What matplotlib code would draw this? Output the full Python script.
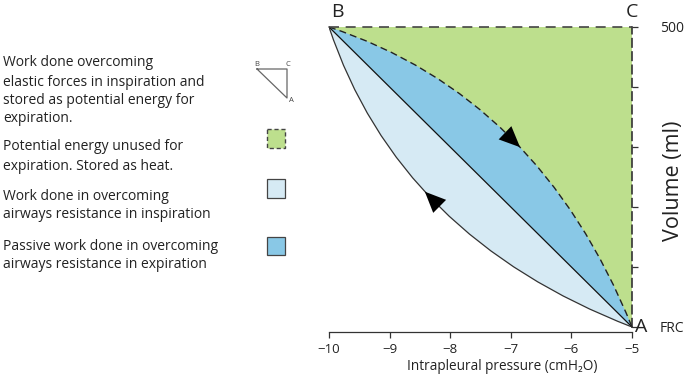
import matplotlib
matplotlib.use("Agg")
import matplotlib.pyplot as plt
from matplotlib.patches import Rectangle, PathPatch
from matplotlib.path import Path
from matplotlib.bezier import BezierSegment
import numpy as np

plt.rcParams['font.family'] = ['Open Sans', 'DejaVu Sans']

# ---- data ----
# quadratic curve control points (start B, control, end A) in (pressure, volume)
insp_p = [-10, -8.85, -5]
insp_v = [500, 150, 0]
exp_p = [-10, -6.54, -5]
exp_v = [500, 385, 0]
tri_p = [-10, -5, -5]      # B, C, A
tri_v = [500, 500, 0]
tri_names = ['B', 'C', 'A']
x_ticks = [-10, -9, -8, -7, -6, -5]
x_ticklabels = ['\u221210', '\u22129', '\u22128', '\u22127', '\u22126', '\u22125']
y_ticks = [0, 100, 200, 300, 400, 500]
y_ticklabels = ['FRC', '', '', '', '', '500']
legend_lines = [
    ["Work done overcoming", "elastic forces in inspiration and",
     "stored as potential energy for", "expiration."],
    ["Potential energy unused for", "expiration. Stored as heat."],
    ["Work done in overcoming", "airways resistance in inspiration"],
    ["Passive work done in overcoming", "airways resistance in expiration"],
]

GREEN = '#bddf8d'
BLUE = '#89c8e6'
LIGHT = '#d6eaf4'

W, H = 685, 376
fig = plt.figure(figsize=(W / 100, H / 100), dpi=100)
ax = fig.add_axes([329 / W, 1 - 327 / H, (632 - 329) / W, 300 / H])
ax.set_xlim(-10, -5)
ax.set_ylim(0, 500)

def curve_path(pp, vv, close=False):
    verts = list(zip(pp, vv))
    codes = [Path.MOVETO, Path.CURVE3, Path.CURVE3]
    if close:
        verts = verts + [verts[0]]
        codes = codes + [Path.CLOSEPOLY]
    return Path(verts, codes)

# green triangle
ax.fill(tri_p, tri_v, color=GREEN, lw=0, zorder=1)
# blue & light blue regions (curve + chord)
ax.add_patch(PathPatch(curve_path(exp_p, exp_v, True), fc=BLUE, lw=0, zorder=2))
ax.add_patch(PathPatch(curve_path(insp_p, insp_v, True), fc=LIGHT, lw=0, zorder=2))

# chord B-A
ax.plot([tri_p[0], tri_p[2]], [tri_v[0], tri_v[2]], color='#111111', lw=0.9, zorder=4, clip_on=False)
# inspiration curve
ax.add_patch(PathPatch(curve_path(insp_p, insp_v), fill=False, ec='#333333', lw=0.9, zorder=4))
# expiration curve (dashed)
ax.add_patch(PathPatch(curve_path(exp_p, exp_v), fill=False, ec='#222222', lw=1.0,
                       ls=(0, (5, 3)), zorder=4))
# top dashed B-C
ax.plot(tri_p[:2], tri_v[:2], color='#444444', lw=1.2, ls=(0, (6, 4)), zorder=4, clip_on=False)

# arrows on the curves
def arrow(pp, vv, t_from, t_to):
    seg = BezierSegment(np.column_stack([pp, vv]))
    tip = seg.point_at_t(t_to)
    tail = seg.point_at_t(t_from)
    ax.annotate('', xy=tip, xytext=tail,
                arrowprops=dict(arrowstyle='-|>,head_length=0.75,head_width=0.33',
                                mutation_scale=20, lw=0, fc='black', ec='none',
                                shrinkA=0, shrinkB=0), zorder=6)

arrow(insp_p, insp_v, 0.55, 0.45)
arrow(exp_p, exp_v, 0.43, 0.535)

# point labels
ax.annotate(tri_names[0], xy=(tri_p[0], tri_v[0]), xytext=(6, 11), textcoords='offset points',
            ha='center', va='center', fontsize=14, color='#222222')
ax.annotate(tri_names[1], xy=(tri_p[1], tri_v[1]), xytext=(0, 11), textcoords='offset points',
            ha='center', va='center', fontsize=14, color='#222222')
ax.annotate(tri_names[2], xy=(tri_p[2], tri_v[2]), xytext=(2, 0), textcoords='offset points',
            ha='left', va='center', fontsize=14, color='#222222')

# spines / ticks
for s in ['left', 'top']:
    ax.spines[s].set_visible(False)
ax.spines['bottom'].set_position(('outward', 3.5))
ax.spines['bottom'].set_color('#333333')
ax.spines['bottom'].set_linewidth(0.9)
ax.spines['right'].set_linestyle((0, (5, 3)))
ax.spines['right'].set_color('#333333')
ax.spines['right'].set_linewidth(1.2)
ax.set_xticks(x_ticks)
ax.set_xticklabels(x_ticklabels)
ax.yaxis.tick_right()
ax.set_yticks(y_ticks)
ax.set_yticklabels(y_ticklabels)
ax.tick_params(axis='x', direction='out', length=4, width=0.9, colors='#333333',
               labelsize=9.5, labelcolor='#222222', pad=4)
ax.tick_params(axis='y', direction='out', length=4, width=0.9, colors='#333333',
               labelsize=10, labelcolor='#222222', pad=16)
ax.set_xlabel('Intrapleural pressure (cmH\u2082O)', fontsize=9.8, color='#222222', va='center')
ax.xaxis.set_label_coords(0.571, -(366 - 327) / 300)
ax.set_ylabel('Volume (ml)', fontsize=15.5, color='#222222', rotation=90, va='center')
ax.yaxis.set_label_position('right')
ax.yaxis.set_label_coords((663 - 329) / 303, (327 - 181) / 300)

# ---- legend (overlay, pixel coords) ----
lg = fig.add_axes([0, 0, 1, 1], zorder=-1)
lg.set_xlim(0, W)
lg.set_ylim(H, 0)
lg.axis('off')

line_y = [[63, 82, 100, 118], [147, 166], [197, 215], [247, 265]]
for lines, ys in zip(legend_lines, line_y):
    for t, y in zip(lines, ys):
        lg.text(3, y, t, fontsize=10, color='#222222', ha='left', va='center')

# triangle icon
lg.plot([257, 287, 287, 257], [69, 69, 98, 69], color='#666666', lw=0.9)
lg.text(257, 64, 'B', fontsize=5.5, ha='center', va='center', color='#444444')
lg.text(288, 64, 'C', fontsize=5.5, ha='center', va='center', color='#444444')
lg.text(291, 100, 'A', fontsize=5.5, ha='center', va='center', color='#444444')

lg.add_patch(Rectangle((267, 129), 18, 19, fc=GREEN, ec='#444444', lw=1.0, ls=(0, (3, 2))))
lg.add_patch(Rectangle((267, 179), 18, 19, fc=LIGHT, ec='#444444', lw=0.9))
lg.add_patch(Rectangle((267, 237), 18, 18, fc=BLUE, ec='#444444', lw=0.9))

fig.savefig('out.png', dpi=100)
